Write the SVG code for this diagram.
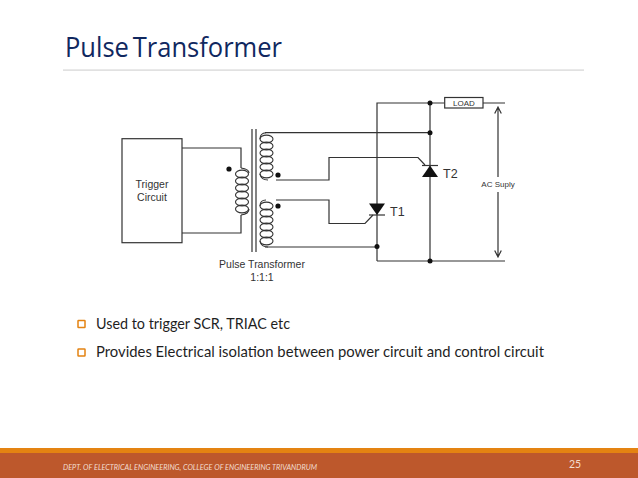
<svg xmlns="http://www.w3.org/2000/svg" width="638" height="478" viewBox="0 0 638 478">
<style>
.w{fill:none;stroke:#333;stroke-width:1.2}
.c{fill:none;stroke:#333;stroke-width:1.1}
.d{fill:#111}
.a{font-family:"Liberation Sans",Arial,sans-serif;fill:#333}
.b{font-family:Lato,"Open Sans",sans-serif;fill:#1f1f1f;font-size:15px}
.q{fill:#fff;stroke:#e48312;stroke-width:1.5}
</style>
<defs>
<g id="coil6" class="c">
<ellipse cx="0" cy="0" rx="6.5" ry="3.9"/><ellipse cx="0" cy="7" rx="6.5" ry="3.9"/><ellipse cx="0" cy="14" rx="6.5" ry="3.9"/><ellipse cx="0" cy="21" rx="6.5" ry="3.9"/><ellipse cx="0" cy="28" rx="6.5" ry="3.9"/><ellipse cx="0" cy="35" rx="6.5" ry="3.9"/>
</g>
</defs>
<rect width="638" height="478" fill="#fff"/>
<text x="65" y="57" font-family="'Open Sans',Lato,sans-serif" font-size="27.500" word-spacing="-3" fill="#10285f" textLength="217" lengthAdjust="spacingAndGlyphs">Pulse Transformer</text>
<rect x="63" y="69.500" width="521" height="1.200" fill="#d4d4d4"/>

<g id="connectors">
<path class="w" d="M182 148H241V168M182 233H241V215"/>
<path class="w" d="M252 129V252M256 129V252"/>
<path class="w" d="M265 132.700H430"/>
<path class="w" d="M276 180H329V157.500H418L425 165"/>
<path class="w" d="M276 200H329V223.500H365L373 215"/>
<path class="w" d="M265 247H377"/>
<path class="w" d="M377 261V103H444.500M483 103H505M377 261H505M430 103V261"/>
<path class="w" d="M498 107V177M498 192V257M494.700 113.500L498 107L501.300 113.500M494.700 250.500L498 257L501.300 250.500"/>
</g>

<g id="trigger-circuit">
<rect x="122" y="138.700" width="60" height="104" fill="#fff" stroke="#333" stroke-width="1.200"/>
<text class="a" x="152" y="188" font-size="10.500" text-anchor="middle">Trigger</text>
<text class="a" x="152" y="201" font-size="10.500" text-anchor="middle">Circuit</text>
</g>

<g id="pulse-transformer">
<use href="#coil6" x="242" y="174"/>
<path class="c" d="M241 168Q249 169 249 173M241 215Q249 214 249 209"/>
<use href="#coil6" x="266.500" y="139"/>
<path class="c" d="M260 139Q260 133 266 132.700M260 174Q261 180 268 180"/>
<use href="#coil6" x="266.500" y="206"/>
<path class="c" d="M260 206Q260 200 266 200M260 241Q261 247 268 247"/>
<circle class="d" cx="229" cy="169" r="2.600"/>
<circle class="d" cx="278" cy="175" r="2.600"/>
<circle class="d" cx="278" cy="206" r="2.600"/>
<text class="a" x="262" y="268" font-size="10.500" text-anchor="middle">Pulse Transformer</text>
<text class="a" x="262" y="281" font-size="10.500" text-anchor="middle">1:1:1</text>
</g>

<g id="load">
<rect x="444.700" y="97.500" width="38.300" height="10.500" fill="#fff" stroke="#333" stroke-width="1.200"/>
<text class="a" x="464" y="105.700" font-size="8" text-anchor="middle">LOAD</text>
</g>

<g id="t1">
<path d="M369 203.500H385L377 215Z" fill="#111"/>
<path class="w" d="M369 215H385"/>
<text class="a" x="390" y="215.500" font-size="12.500">T1</text>
</g>

<g id="t2">
<path d="M422 177H438L430 165.500Z" fill="#111"/>
<path class="w" d="M422 165.500H438"/>
<text class="a" x="443" y="177.500" font-size="12.500">T2</text>
</g>

<g id="junctions">
<circle class="d" cx="430" cy="103" r="2.500"/>
<circle class="d" cx="430" cy="132.700" r="2.500"/>
<circle class="d" cx="377" cy="246.500" r="2.500"/>
<circle class="d" cx="430" cy="261" r="2.500"/>
</g>

<text id="ac-supply" class="a" x="498" y="186.500" font-size="8" text-anchor="middle">AC Suply</text>

<rect class="q" x="78" y="320.500" width="7" height="7" rx="0.500"/>
<text class="b" x="96" y="329" textLength="194" lengthAdjust="spacingAndGlyphs">Used to trigger SCR, TRIAC etc</text>
<rect class="q" x="78" y="349" width="7" height="7" rx="0.500"/>
<text class="b" x="96" y="357" textLength="448" lengthAdjust="spacingAndGlyphs">Provides Electrical isolation between power circuit and control circuit</text>

<rect y="448" width="638" height="30" fill="#bd582c"/>
<rect y="448" width="638" height="5" fill="#e48312"/>
<text x="63" y="470" font-family="Lato,'Open Sans',sans-serif" font-style="italic" font-size="8" fill="#f2ddd0" textLength="254" lengthAdjust="spacingAndGlyphs">DEPT. OF ELECTRICAL ENGINEERING, COLLEGE OF ENGINEERING TRIVANDRUM</text>
<text x="569" y="468" font-family="Lato,'Open Sans',sans-serif" font-size="10.500" fill="#f2ddd0">25</text>
</svg>
